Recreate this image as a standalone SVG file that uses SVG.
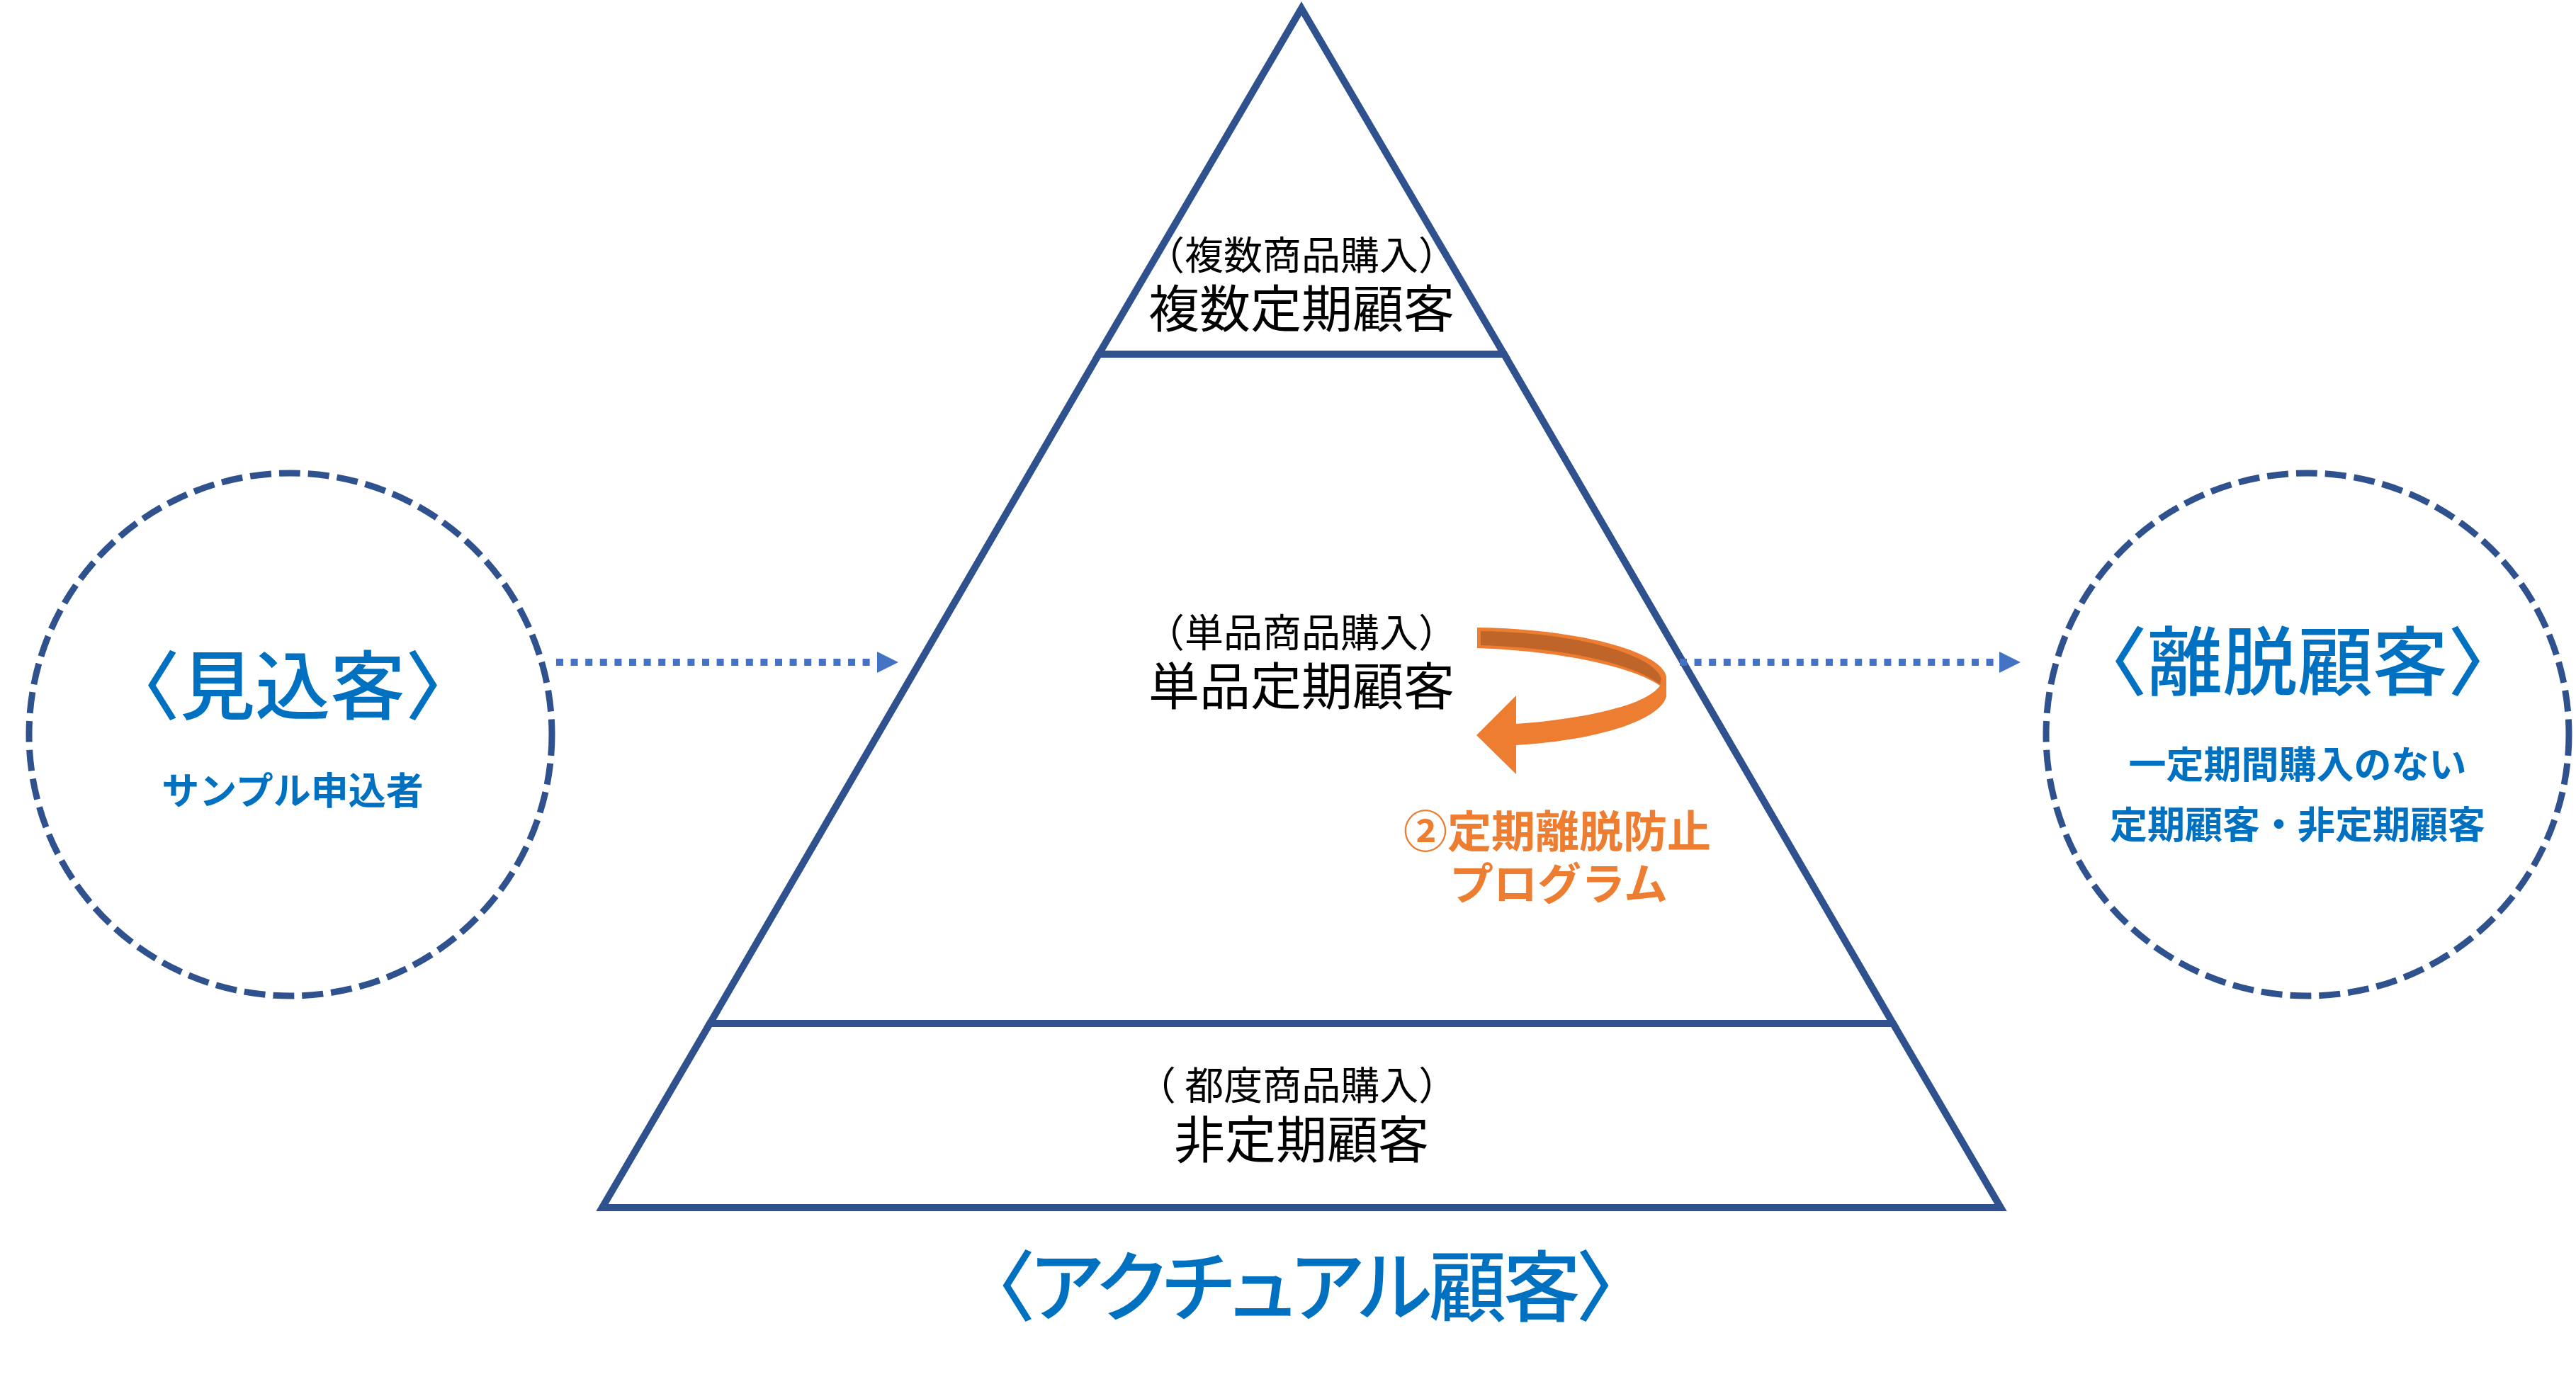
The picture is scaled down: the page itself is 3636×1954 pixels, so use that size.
<svg xmlns="http://www.w3.org/2000/svg" width="3636" height="1954" viewBox="0 0 3636 1954">
<style>
  .tier { fill: #FFFFFF; stroke: #2F528F; stroke-width: 10; stroke-linejoin: miter; }
  .circ { fill: #FFFFFF; stroke: #2F528F; stroke-width: 9; stroke-dasharray: 30 11; }
  .conn { fill: none; stroke: #4472C4; stroke-width: 10; stroke-dasharray: 10 10.6; }
  .jp { font-family: "Noto Sans CJK JP", "Noto Sans CJK SC", sans-serif; text-anchor: middle; }
  .sub { font-size: 55px; fill: #000000; }
  .main { font-size: 72px; fill: #000000; }
  .blueT { font-size: 106px; fill: #0070C0; font-weight: 500; }
  .blueS { font-size: 53px; fill: #0070C0; font-weight: 700; }
  .orangeT { font-size: 62px; fill: #ED7D31; font-weight: 700; }
  .palt { font-feature-settings: "palt" 1; }
</style>
<defs>
  <marker id="tri" viewBox="0 0 30 30" refX="0" refY="15" markerWidth="30" markerHeight="30" markerUnits="userSpaceOnUse" orient="auto">
    <path d="M0,0 L30,15 L0,30 Z" fill="#4472C4"/>
  </marker>
</defs>
<rect width="3636" height="1954" fill="#FFFFFF"/>

<g id="pyramid">
  <g id="tier-top">
    <polygon class="tier" points="1837,12 2123,500 1551,500"/>
    <text class="jp sub" x="1837" y="380">（複数商品購入）</text>
    <text class="jp main" x="1837" y="462">複数定期顧客</text>
  </g>
  <g id="tier-middle">
    <polygon class="tier" points="1551,500 2123,500 2672,1445 1002,1445"/>
    <text class="jp sub" x="1837" y="913">（単品商品購入）</text>
    <text class="jp main" x="1837" y="995">単品定期顧客</text>
  </g>
  <g id="tier-bottom">
    <polygon class="tier" points="1002,1445 2672,1445 2824,1705 850,1705"/>
    <text class="jp sub" x="1831" y="1552">（ 都度商品購入）</text>
    <text class="jp main" x="1837" y="1635">非定期顧客</text>
  </g>
</g>

<g id="actual-label">
  <text class="jp blueT palt" x="1841" y="1857" style="font-size:109px; letter-spacing:-4px">〈アクチュアル顧客〉</text>
</g>

<g id="prospect">
  <circle class="circ" cx="410" cy="1037" r="369"/>
  <text class="jp blueT" x="413" y="1007">〈見込客〉</text>
  <text class="jp blueS" x="413" y="1136">サンプル申込者</text>
</g>

<g id="churned">
  <circle class="circ" cx="3257" cy="1037" r="369"/>
  <text class="jp blueT" x="3243" y="973">〈離脱顧客〉</text>
  <text class="jp blueS" x="3243" y="1099">一定期間購入のない</text>
  <text class="jp blueS" x="3243" y="1184">定期顧客・非定期顧客</text>
</g>

<g id="retention">
  <path d="M2085,886 C2230,888 2345,920 2352,955 L2352,983 C2345,1015 2260,1045 2140,1052 L2140,1093 L2084,1038 L2140,982 L2140,1022 C2240,1015 2325,995 2343,968 C2310,945 2220,920 2085,915 Z" fill="#ED7D31"/>
  <path d="M2090,891 C2230,893 2335,925 2345,958 L2343,966 C2305,938 2215,915 2090,911 Z" fill="#C0652A"/>
  <text class="jp orangeT" x="2198" y="1197">②定期離脱防止</text>
  <text class="jp orangeT" x="2200" y="1271">プログラム</text>
</g>

<g id="connectors">
  <line class="conn" x1="785" y1="935" x2="1238" y2="935" marker-end="url(#tri)"/>
  <line class="conn" x1="2371" y1="935" x2="2822" y2="935" marker-end="url(#tri)"/>
</g>
</svg>
